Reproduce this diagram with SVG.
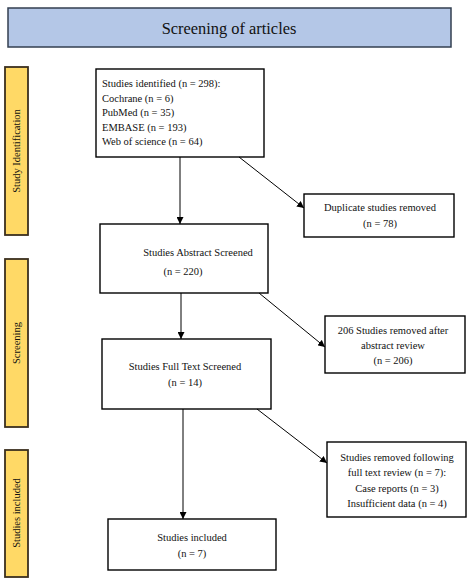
<svg xmlns="http://www.w3.org/2000/svg" width="474" height="583" viewBox="0 0 474 583">
<defs>
<marker id="ah" viewBox="0 0 10 10" refX="10" refY="5" markerWidth="7" markerHeight="7" markerUnits="userSpaceOnUse" orient="auto">
<path d="M0,0 L10,5 L0,10 z" fill="#000"/>
</marker>
<style>
.box{fill:#fff;stroke:#000;stroke-width:1.4}
.side{fill:#FFD966;stroke:#3b2f1e;stroke-width:1.8}
.t{font-family:"Liberation Serif",serif;font-size:10.5px;fill:#111}
.c{text-anchor:middle}
.conn line{stroke:#000;stroke-width:1;marker-end:url(#ah)}
</style>
</defs>
<rect width="474" height="583" fill="#fff"/>
<g id="title">
<rect x="8" y="8" width="443" height="39" fill="#B4C7E7" stroke="#333F50" stroke-width="1.5"/>
<text x="229" y="34" class="c" font-family="Liberation Serif, serif" font-size="16.4" fill="#111">Screening of articles</text>
</g>
<g id="side-identification">
<rect class="side" x="5" y="67" width="23" height="168"/>
<text class="t c" transform="translate(20,151) rotate(-90)">Study Identification</text>
</g>
<g id="side-screening">
<rect class="side" x="5" y="259" width="23" height="168"/>
<text class="t c" transform="translate(20,343) rotate(-90)">Screening</text>
</g>
<g id="side-included">
<rect class="side" x="5" y="450" width="23" height="127"/>
<text class="t c" transform="translate(20,513) rotate(-90)">Studies included</text>
</g>
<g id="identified">
<rect class="box" x="96" y="69" width="168" height="88"/>
<text class="t" x="102" y="87">Studies identified (n = 298):</text>
<text class="t" x="102" y="101.5">Cochrane (n = 6)</text>
<text class="t" x="102" y="116">PubMed (n = 35)</text>
<text class="t" x="102" y="130.5">EMBASE (n = 193)</text>
<text class="t" x="102" y="145">Web of science (n = 64)</text>
</g>
<g id="duplicates">
<rect class="box" x="304" y="194" width="150" height="43"/>
<text class="t c" x="380" y="211">Duplicate studies removed</text>
<text class="t c" x="380" y="227">(n = 78)</text>
</g>
<g id="abstract">
<rect class="box" x="100" y="224" width="168" height="69"/>
<text class="t c" x="198" y="256">Studies Abstract Screened</text>
<text class="t c" x="183" y="275">(n = 220)</text>
</g>
<g id="abstract-removed">
<rect class="box" x="325" y="316" width="140" height="57"/>
<text class="t c" x="393" y="334">206 Studies removed after</text>
<text class="t c" x="393" y="349">abstract review</text>
<text class="t c" x="393" y="364">(n = 206)</text>
</g>
<g id="fulltext">
<rect class="box" x="102" y="339" width="169" height="70"/>
<text class="t c" x="185" y="370">Studies Full Text Screened</text>
<text class="t c" x="185" y="386">(n = 14)</text>
</g>
<g id="fulltext-removed">
<rect class="box" x="327" y="442" width="139" height="75"/>
<text class="t c" x="397" y="461">Studies removed following</text>
<text class="t c" x="397" y="476">full text review (n = 7):</text>
<text class="t c" x="397" y="492">Case reports (n = 3)</text>
<text class="t c" x="397" y="507">Insufficient data (n = 4)</text>
</g>
<g id="included">
<rect class="box" x="108" y="519" width="168" height="51"/>
<text class="t c" x="192" y="541">Studies included</text>
<text class="t c" x="192" y="557">(n = 7)</text>
</g>
<g id="connectors" class="conn">
<line x1="180" y1="157" x2="180" y2="224"/>
<line x1="239" y1="157" x2="304" y2="208"/>
<line x1="181" y1="293" x2="181" y2="339"/>
<line x1="259" y1="293" x2="325" y2="347"/>
<line x1="183" y1="409" x2="183" y2="519"/>
<line x1="257" y1="409" x2="327" y2="463"/>
</g>
</svg>
